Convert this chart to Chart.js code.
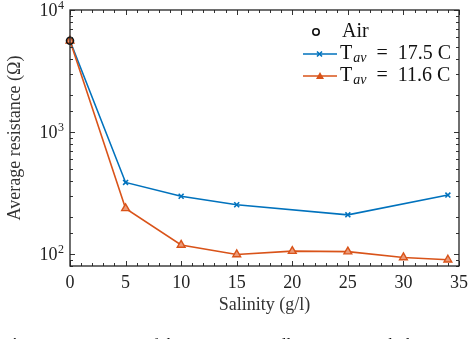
<!DOCTYPE html>
<html>
<head>
<meta charset="utf-8">
<script src="https://cdn.jsdelivr.net/npm/chart.js@4"></script>
<style>
  html, body { margin: 0; padding: 0; background: #fff; }
  #wrap { width: 474px; height: 339px; }
</style>
</head>
<body>
<div id="wrap"><canvas id="chart" width="474" height="339"></canvas></div>
<script>
// values
const salinity = [0, 5, 10, 15, 25, 34];
const resistance17 = [5600, 387, 298, 254, 210, 305];
const salinity11 = [0, 5, 10, 15, 20, 25, 30, 34];
const resistance11 = [5600, 237, 119, 99.5, 106, 105, 94, 90];
const airSalinity = [0];
const airResistance = [5600];
const legendLabels = ["Air", "T", "T"];
const legendValues = ["", "  =  17.5 C", "  =  11.6 C"];
const captionText = "Comparison of the average overall resistance with the";

const blue = "#0072bd";
const orange = "#d95319";
const serif = "'Liberation Serif', 'Times New Roman', serif";

function pts(xs, ys) {
  return xs.map((x, i) => ({ x: x, y: ys[i] }));
}

// cadre, petits traits vers l'intérieur, labels 10^n, légende
const framePlugin = {
  id: "framePlugin",
  afterDraw(chart) {
    const ctx = chart.ctx;
    const a = chart.chartArea;
    const xs = chart.scales.x;
    const ys = chart.scales.y;
    ctx.save();
    ctx.strokeStyle = "#333";
    ctx.lineWidth = 1;
    ctx.beginPath();
    xs.ticks.forEach((t) => {
      const px = Math.round(xs.getPixelForValue(t.value)) + 0.5;
      const len = t.value % 5 === 0 ? 5 : 3;
      ctx.moveTo(px, a.bottom); ctx.lineTo(px, a.bottom - len);
      ctx.moveTo(px, a.top); ctx.lineTo(px, a.top + len);
    });
    ys.ticks.forEach((t) => {
      const py = Math.round(ys.getPixelForValue(t.value)) + 0.5;
      const e = Math.log10(t.value);
      const len = Math.abs(e - Math.round(e)) < 1e-9 ? 5 : 3;
      ctx.moveTo(a.left, py); ctx.lineTo(a.left + len, py);
      ctx.moveTo(a.right, py); ctx.lineTo(a.right - len, py);
    });
    ctx.stroke();
    ctx.lineWidth = 1.3;
    ctx.strokeStyle = "#222";
    ctx.strokeRect(a.left, a.top, a.right - a.left, a.bottom - a.top);

    // labels de l'axe y avec exposant
    ctx.fillStyle = "#222";
    ys.ticks.forEach((t) => {
      const e = Math.log10(t.value);
      if (Math.abs(e - Math.round(e)) > 1e-9) return;
      const py = ys.getPixelForValue(t.value);
      ctx.font = "12px " + serif;
      ctx.textAlign = "right";
      ctx.textBaseline = "alphabetic";
      const ew = ctx.measureText(String(Math.round(e))).width;
      ctx.fillText(String(Math.round(e)), 64, py - 1);
      ctx.font = "18px " + serif;
      ctx.fillText("10", 64 - ew - 0.5, py + 6);
    });

    // légende
    const lx = 303, tx = 340;
    const rows = [32, 54, 76];
    ctx.textAlign = "left";
    ctx.textBaseline = "middle";
    rows.forEach((ry, i) => {
      if (i === 0) {
        ctx.strokeStyle = "#111";
        ctx.lineWidth = 1.6;
        ctx.beginPath();
        ctx.arc(316, ry, 3.2, 0, Math.PI * 2);
        ctx.stroke();
      } else {
        const col = i === 1 ? blue : orange;
        ctx.strokeStyle = col;
        ctx.lineWidth = 1.6;
        ctx.beginPath();
        ctx.moveTo(lx, ry); ctx.lineTo(lx + 34, ry);
        ctx.stroke();
        if (i === 1) {
          ctx.beginPath();
          ctx.moveTo(317, ry - 2.5); ctx.lineTo(322, ry + 2.5);
          ctx.moveTo(317, ry + 2.5); ctx.lineTo(322, ry - 2.5);
          ctx.stroke();
        } else {
          ctx.fillStyle = orange;
          ctx.beginPath();
          ctx.moveTo(320, ry - 4); ctx.lineTo(324, ry + 3); ctx.lineTo(316, ry + 3);
          ctx.closePath();
          ctx.fill();
        }
      }
      ctx.fillStyle = "#111";
      ctx.font = "20px " + serif;
      ctx.fillText(legendLabels[i], i === 0 ? tx + 2 : tx, ry);
      if (i > 0) {
        let w = ctx.measureText(legendLabels[i]).width;
        ctx.font = "italic 14px " + serif;
        ctx.fillText("av", tx + w + 1, ry + 4);
        w += ctx.measureText("av").width + 1;
        ctx.font = "20px " + serif;
        ctx.fillText(legendValues[i], tx + w, ry);
      }
    });

    // légende de figure, coupée en bas
    ctx.textBaseline = "alphabetic";
    ctx.font = "bold 17px " + serif;
    ctx.fillText("Fig. 5:", 2, 349.5);
    const fw = ctx.measureText("Fig. 5:").width;
    ctx.font = "17px " + serif;
    ctx.fillText(captionText, 2 + fw + 8, 349.5);
    ctx.restore();
  },
};

new Chart(document.getElementById("chart"), {
  type: "line",
  data: {
    datasets: [
      {
        label: "Air",
        data: pts(airSalinity, airResistance),
        showLine: false,
        pointStyle: "circle",
        pointRadius: 3.5,
        pointBorderColor: "#111",
        pointBackgroundColor: "rgba(0,0,0,0)",
        pointBorderWidth: 1.6,
        order: 0,
      },
      {
        label: "T_av = 17.5 C",
        data: pts(salinity, resistance17),
        borderColor: blue,
        borderWidth: 1.6,
        pointStyle: "crossRot",
        pointRadius: 3.5,
        pointBorderColor: blue,
        pointBorderWidth: 1.6,
        tension: 0,
        order: 2,
      },
      {
        label: "T_av = 11.6 C",
        data: pts(salinity11, resistance11),
        borderColor: orange,
        borderWidth: 1.6,
        pointStyle: "triangle",
        pointRadius: 4.5,
        pointBorderColor: orange,
        pointBackgroundColor: "#ec9a78",
        pointBorderWidth: 1.4,
        tension: 0,
        order: 1,
      },
    ],
  },
  options: {
    responsive: false,
    animation: false,
    clip: false,
    layout: { padding: { top: 10, right: 11, left: 0, bottom: 0 } },
    plugins: {
      legend: { display: false },
      tooltip: { enabled: false },
    },
    scales: {
      x: {
        type: "linear",
        min: 0,
        max: 35,
        grid: { display: false, drawTicks: false },
        border: { display: false },
        ticks: {
          stepSize: 1,
          autoSkip: false,
          maxRotation: 0,
          padding: 6,
          color: "#222",
          font: { family: serif, size: 18 },
          callback: (v) => (v % 5 === 0 ? String(v) : ""),
        },
        title: {
          display: true,
          text: "Salinity (g/l)",
          color: "#333",
          font: { family: serif, size: 18 },
          padding: { top: 0, bottom: 23 },
        },
        afterFit: (s) => { s.height = 73; },
      },
      y: {
        type: "logarithmic",
        min: 80,
        max: 10000,
        grid: { display: false, drawTicks: false },
        border: { display: false },
        ticks: { display: false },
        title: {
          display: true,
          text: "Average resistance (Ω)",
          color: "#333",
          font: { family: serif, size: 18 },
          padding: { top: 4 },
        },
        afterFit: (s) => { s.width = 70; },
      },
    },
  },
  plugins: [framePlugin],
});
</script>
</body>
</html>
